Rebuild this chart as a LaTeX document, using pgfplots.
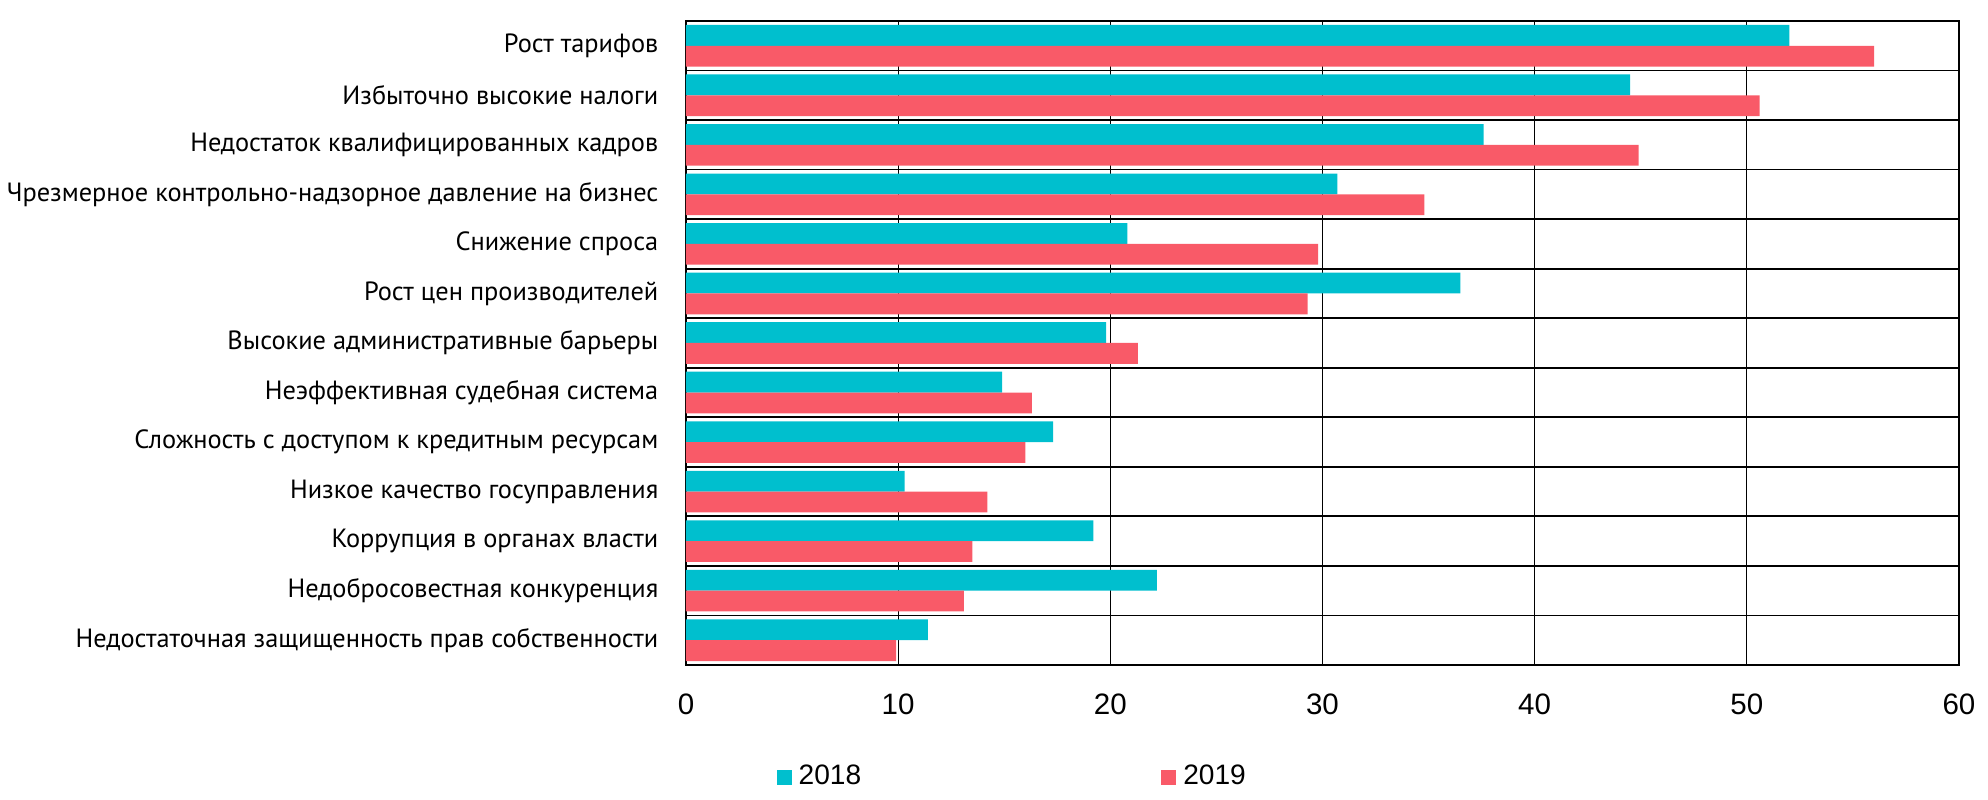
\documentclass[border=0pt]{standalone}
\usepackage{fontspec}
\setmainfont{Liberation Sans}
\newfontfamily\labelfont{PT Sans}
\usepackage{pgfplots}
\pgfplotsset{compat=1.18}
\definecolor{c18}{RGB}{0,191,206}
\definecolor{c19}{RGB}{249,90,104}

\begin{document}
\begin{tikzpicture}
\path[use as bounding box] (-68.6mm,-13.5mm) rectangle (130.2mm,66.5mm);
\begin{axis}[
  scale only axis, width=127.3mm, height=64.4mm,
  xbar, bar width=0.42,
  xmin=0, xmax=60, ymin=-0.5, ymax=12.5,
  xtick={0,10,...,60},
  ytick={0,...,12},
  yticklabels={Недостаточная защищенность прав собственности,
    Недобросовестная конкуренция,
    Коррупция в органах власти,
    Низкое качество госуправления,
    Сложность с доступом к кредитным ресурсам,
    Неэффективная судебная система,
    Высокие административные барьеры,
    Рост цен производителей,
    Снижение спроса,
    Чрезмерное контрольно-надзорное давление на бизнес,
    Недостаток квалифицированных кадров,
    Избыточно высокие налоги,
    Рост тарифов},
  minor ytick={-0.5,0.5,...,12.5},
  xmajorgrids, yminorgrids,
  major grid style={black, line width=0.3pt},
  minor grid style={black, line width=0.5pt},
  major tick length=0pt, minor tick length=0pt,
  axis line style={black, line width=0.5pt},
  /pgf/number format/assume math mode=true,
  tick label style={font=\fontsize{8.4}{10}\selectfont, inner sep=0pt},
  yticklabel style={font=\labelfont\fontsize{7.5}{9}\selectfont, anchor=east, xshift=-2.7mm},
  xticklabel style={anchor=north, yshift=-2.8mm},
  legend style={at={(0.0707,-0.174)}, anchor=west, draw=none, fill=none,
    inner sep=0pt, font=\fontsize{8}{10}\selectfont,
    /tikz/every even column/.append style={column sep=29.3mm}},
  legend columns=2,
  legend image code/.code={\fill[#1] (0mm,-0.75mm) rectangle (1.5mm,0.75mm);},
]
\addplot[draw=none, fill=c18, bar shift=0.21] coordinates {
  (11.4,0) (22.2,1) (19.2,2) (10.3,3) (17.3,4) (14.9,5) (19.8,6)
  (36.5,7) (20.8,8) (30.7,9) (37.6,10) (44.5,11) (52.0,12)
};
\addplot[draw=none, fill=c19, bar shift=-0.21] coordinates {
  (9.9,0) (13.1,1) (13.5,2) (14.2,3) (16.0,4) (16.3,5) (21.3,6)
  (29.3,7) (29.8,8) (34.8,9) (44.9,10) (50.6,11) (56.0,12)
};
\legend{2018, 2019}
\end{axis}
\end{tikzpicture}
\end{document}
